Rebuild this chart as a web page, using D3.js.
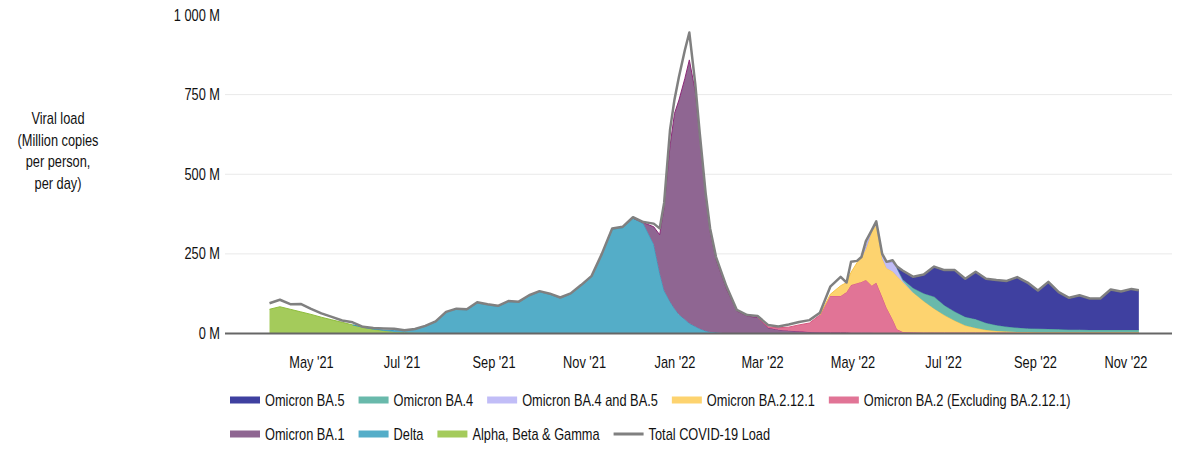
<!DOCTYPE html>
<html>
<head>
<meta charset="utf-8">
<script src="https://cdnjs.cloudflare.com/ajax/libs/d3/7.8.5/d3.min.js"></script>
<style>
body { margin: 0; background: #fff; }
svg { font-family: "Liberation Sans", Arial, sans-serif; }
</style>
</head>
<body>
<svg id="chart" width="1180" height="450"></svg>
<script>
// dates of the samples (weekly, denser around the two peaks)
const dates = [
  "2021-04-03","2021-04-10","2021-04-17","2021-04-24","2021-05-01","2021-05-08","2021-05-15","2021-05-22","2021-05-29",
  "2021-06-05","2021-06-12","2021-06-19","2021-06-26","2021-07-03","2021-07-10","2021-07-17","2021-07-24","2021-07-31",
  "2021-08-07","2021-08-14","2021-08-21","2021-08-28","2021-09-04","2021-09-11","2021-09-18","2021-09-25","2021-10-02",
  "2021-10-09","2021-10-16","2021-10-23","2021-10-30","2021-11-06","2021-11-13","2021-11-20","2021-11-27","2021-12-04",
  "2021-12-11","2021-12-18",
  "2021-12-22","2021-12-25","2021-12-29","2022-01-01","2022-01-04","2022-01-08","2022-01-11","2022-01-15","2022-01-18",
  "2022-01-22","2022-01-25","2022-01-29","2022-02-05",
  "2022-02-12","2022-02-19","2022-02-26","2022-03-05","2022-03-12","2022-03-19","2022-03-26","2022-04-02","2022-04-09",
  "2022-04-16","2022-04-23",
  "2022-04-27","2022-04-30","2022-05-04","2022-05-07","2022-05-10","2022-05-14","2022-05-17","2022-05-21","2022-05-24",
  "2022-05-28","2022-05-31","2022-06-04",
  "2022-06-11","2022-06-18","2022-06-25","2022-07-02","2022-07-09","2022-07-16","2022-07-23","2022-07-30","2022-08-06",
  "2022-08-13","2022-08-20","2022-08-27","2022-09-03","2022-09-10","2022-09-17","2022-09-24","2022-10-01","2022-10-08",
  "2022-10-15","2022-10-22","2022-10-29","2022-11-05","2022-11-10"
];

// million copies per person per day
const alpha = [
  76,84,76,68,60,51,43,35,27,19,13,9,5,3,2,2,1,1,0.5,0,0,0,0,0,0,0,0,0,0,0,0,0,0,0,0,0,0,0,
  0,0,0,0,0,0,0,0,0,0,0,0,0,
  0,0,0,0,0,0,0,0,0,0,0,
  0,0,0,0,0,0,0,0,0,0,0,0,
  0,0,0,0,0,0,0,0,0,0,0,0,0,0,0,0,0,0,0,0,0,0,0
];
const delta = [
  0,0,0,0,0,0,0,0,0,1,1,2,4,6,11,21,36,66,76,74,96,90,85,100,98,118,131,123,111,124,150,178,248,327,332,362,345,280,
  190,135,100,78,60,44,32,22,15,8,5,3,1,
  0.5,0,0,0,0,0,0,0,0,0,0,
  0,0,0,0,0,0,0,0,0,0,0,0,
  0,0,0,0,0,0,0,0,0,0,0,0,0,0,0,0,0,0,0,0,0,0,0
];
const ba1 = [
  0,0,0,0,0,0,0,0,0,0,0,0,0,0,0,0,0,0,0,0,0,0,0,0,0,0,0,0,0,0,0,0,0,0,0,0,3,55,
  120,260,490,613,673,757,827,738,605,422,315,229,139,
  70,55,50,18,12,9,7,5,4,3,3,
  3,2,2,2,2,2,1,1,1,1,1,1,
  1,0.5,0,0,0,0,0,0,0,0,0,0,0,0,0,0,0,0,0,0,0,0,0
];
const ba2 = [
  0,0,0,0,0,0,0,0,0,0,0,0,0,0,0,0,0,0,0,0,0,0,0,0,0,0,0,0,0,0,0,0,0,0,0,0,0,0,
  0,0,0,0,0,0,0,0,0,0,0,0,0,
  0,0,0,3,6,11,20,28,54,115,115,
  127,150,156,160,166,148,159,114,79,44,12,4,
  3,3,3,3,3,3,3,3,3,3,3,3,3,3,3,3,3,3,3,3,3,3,3
];
const ba2121 = [
  0,0,0,0,0,0,0,0,0,0,0,0,0,0,0,0,0,0,0,0,0,0,0,0,0,0,0,0,0,0,0,0,0,0,0,0,0,0,
  0,0,0,0,0,0,0,0,0,0,0,0,0,
  0,0,0,0,0,0,0,0,0,5,32,
  30,40,64,76,97,170,180,120,125,150,167,156,
  124,98,75,54,37,22,14,8,5,3,2,1.5,1,1,1,1,1,1,1,1,1,1,1
];
const ba45 = [
  0,0,0,0,0,0,0,0,0,0,0,0,0,0,0,0,0,0,0,0,0,0,0,0,0,0,0,0,0,0,0,0,0,0,0,0,0,0,
  0,0,0,0,0,0,0,0,0,0,0,0,0,
  0,0,0,0,0,0,0,0,0,0,0,
  0,0,0,0,8,5,8,12,18,28,25,3,
  0,0,0,0,0,0,0,0,0,0,0,0,0,0,0,0,0,0,0,0,0,0,0
];
const ba4 = [
  0,0,0,0,0,0,0,0,0,0,0,0,0,0,0,0,0,0,0,0,0,0,0,0,0,0,0,0,0,0,0,0,0,0,0,0,0,0,
  0,0,0,0,0,0,0,0,0,0,0,0,0,
  0,0,0,0,0,0,0,0,0,0,0,
  0,0,0,0,0,0,0,0,0,0,0,5,
  14,24,37,31,28,27,28,22,18,15,13,11.5,11,10,9,8,8,7,7,7,7,7,7
];
const ba5 = [
  0,0,0,0,0,0,0,0,0,0,0,0,0,0,0,0,0,0,0,0,0,0,0,0,0,0,0,0,0,0,0,0,0,0,0,0,0,0,
  0,0,0,0,0,0,0,0,0,0,0,0,0,
  0,0,0,0,0,0,0,0,0,0,0,
  0,0,0,0,0,0,0,0,0,0,0,25,
  33,57,93,109,129,118,147,137,140,142,157,142,118,146,115,98,106,97,97,125,119,127,123
];
const total = [
  95,106,92,93,77,63,52,41,35,21,17,16,15,10,14,24,38,68,78,76,98,92,87,102,100,120,133,125,113,126,152,180,250,330,335,365,350,345,
  330,410,640,735,806,890,945,783,630,440,330,240,148,
  74,58,55,27,22,28,36,42,65,147,178,
  160,225,228,240,290,325,352,250,225,230,210,197,
  178,185,210,199,199,172,194,172,168,165,177,160,135,162,130,112,120,110,110,138,132,140,136
];

const yTicks = [0, 250, 500, 750, 1000];
const xTicks = ["2021-05-01","2021-07-01","2021-09-01","2021-11-01","2022-01-01","2022-03-01",
                "2022-05-01","2022-07-01","2022-09-01","2022-11-01"];

// series, bottom of the stack first
const series = [
  { key: "alpha",  name: "Alpha, Beta & Gamma",               values: alpha,  fill: "#a4cb5b", stroke: "#8fbd3d" },
  { key: "delta",  name: "Delta",                             values: delta,  fill: "#54adc8", stroke: "#3797bd" },
  { key: "ba1",    name: "Omicron BA.1",                      values: ba1,    fill: "#8f6692", stroke: "#8c2777" },
  { key: "ba2",    name: "Omicron BA.2 (Excluding BA.2.12.1)", values: ba2,   fill: "#e17496", stroke: "#d9577f" },
  { key: "ba2121", name: "Omicron BA.2.12.1",                 values: ba2121, fill: "#fdd36f", stroke: "#f5c44b" },
  { key: "ba45",   name: "Omicron BA.4 and BA.5",             values: ba45,   fill: "#c1bdf7", stroke: "#aca7f0" },
  { key: "ba4",    name: "Omicron BA.4",                      values: ba4,    fill: "#69b9ab", stroke: "#4eaa98" },
  { key: "ba5",    name: "Omicron BA.5",                      values: ba5,    fill: "#3f40a0", stroke: "#33348f" }
];
const legendRows = [
  ["ba5", "ba4", "ba45", "ba2121", "ba2"],
  ["ba1", "delta", "alpha", "total"]
];

// reference font is a narrow sans; squeeze the regular one horizontally
const FONT = 16, NARROW = 0.8;

const parse = d3.timeParse("%Y-%m-%d");
const rows = dates.map((d, i) => {
  const r = { date: parse(d), total: total[i] };
  series.forEach(s => r[s.key] = s.values[i]);
  return r;
});

const svg = d3.select("#chart");
const area = { left: 225, right: 1172, top: 15, bottom: 333.5 };

const scX = d3.scaleTime()
  .domain([parse("2021-03-04"), parse("2022-12-01")])
  .range([area.left, 1170]);
const scY = d3.scaleLinear()
  .domain([0, 1000])
  .range([area.bottom, area.top]);

// сетка
svg.append("g")
  .selectAll("line")
  .data(yTicks.filter(v => v > 0 && v < 1000))
  .enter()
  .append("line")
  .attr("x1", area.left).attr("x2", area.right)
  .attr("y1", d => scY(d)).attr("y2", d => scY(d))
  .attr("stroke", "#e9e9e9")
  .attr("stroke-width", 1);

// stacked areas
const stack = d3.stack().keys(series.map(s => s.key));
const layers = stack(rows);

layers.forEach((layer, li) => {
  const s = series[li];
  const vals = s.values;
  const on = i => vals[i] > 0 || (i > 0 && vals[i - 1] > 0) || (i < vals.length - 1 && vals[i + 1] > 0);
  const areaGen = d3.area()
    .defined((d, i) => on(i))
    .x(d => scX(d.data.date))
    .y0(d => scY(d[0]))
    .y1(d => scY(d[1]));
  const lineGen = d3.line()
    .defined((d, i) => on(i))
    .x(d => scX(d.data.date))
    .y(d => scY(d[1]));
  svg.append("path")
    .datum(layer)
    .attr("d", areaGen)
    .attr("fill", s.fill);
  svg.append("path")
    .datum(layer)
    .attr("d", lineGen)
    .attr("fill", "none")
    .attr("stroke", s.stroke)
    .attr("stroke-width", 1);
});

// total load
svg.append("path")
  .datum(rows)
  .attr("d", d3.line().x(d => scX(d.date)).y(d => scY(d.total)))
  .attr("fill", "none")
  .attr("stroke", "#808080")
  .attr("stroke-width", 2.5)
  .attr("stroke-linejoin", "round");

// baseline
svg.append("line")
  .attr("x1", area.left).attr("x2", area.right)
  .attr("y1", area.bottom).attr("y2", area.bottom)
  .attr("stroke", "#666")
  .attr("stroke-width", 2);

// axes
const axisX = d3.axisBottom(scX)
  .tickValues(xTicks.map(parse))
  .tickFormat(d3.timeFormat("%b '%y"))
  .tickSize(0)
  .tickPadding(23);
const gx = svg.append("g")
  .attr("transform", `translate(0, ${area.bottom})`)
  .call(axisX);
gx.select(".domain").remove();
gx.selectAll("text")
  .attr("font-size", FONT)
  .attr("font-family", null)
  .attr("fill", "#111")
  .attr("transform", `scale(${NARROW},1)`);

const axisY = d3.axisLeft(scY)
  .tickValues(yTicks)
  .tickFormat(d => (d === 1000 ? "1 000" : d) + " M")
  .tickSize(0)
  .tickPadding(5);
const gy = svg.append("g")
  .attr("transform", `translate(${area.left}, 0)`)
  .call(axisY);
gy.select(".domain").remove();
gy.selectAll("text")
  .attr("font-size", FONT)
  .attr("font-family", null)
  .attr("fill", "#111")
  .attr("x", -5 / NARROW)
  .attr("transform", `scale(${NARROW},1)`);

// y title
const title = ["Viral load", "(Million copies", "per person,", "per day)"];
svg.append("g")
  .attr("transform", `translate(58, 0) scale(${NARROW},1)`)
  .append("text")
  .attr("text-anchor", "middle")
  .attr("font-size", FONT)
  .attr("fill", "#111")
  .selectAll("tspan")
  .data(title)
  .enter()
  .append("tspan")
  .attr("x", 0)
  .attr("y", (d, i) => 124 + i * 21.6)
  .text(d => d);

// legend
const legendY = [400, 434];
legendRows.forEach((row, ri) => {
  let x = 230;
  row.forEach(key => {
    const g = svg.append("g").attr("transform", `translate(${x}, ${legendY[ri]})`);
    if (key === "total") {
      g.append("rect").attr("x", 0).attr("y", -1.5).attr("width", 30).attr("height", 3).attr("fill", "#808080");
    } else {
      const s = series.find(v => v.key === key);
      g.append("rect").attr("x", 0).attr("y", -3.5).attr("width", 30).attr("height", 7).attr("fill", s.fill);
    }
    const label = key === "total" ? "Total COVID-19 Load" : series.find(v => v.key === key).name;
    const t = g.append("text")
      .attr("transform", `translate(35, 5.5) scale(${NARROW},1)`)
      .attr("font-size", FONT)
      .attr("fill", "#111")
      .text(label);
    x += 35 + t.node().getComputedTextLength() * NARROW + 14;
  });
});
</script>
</body>
</html>
